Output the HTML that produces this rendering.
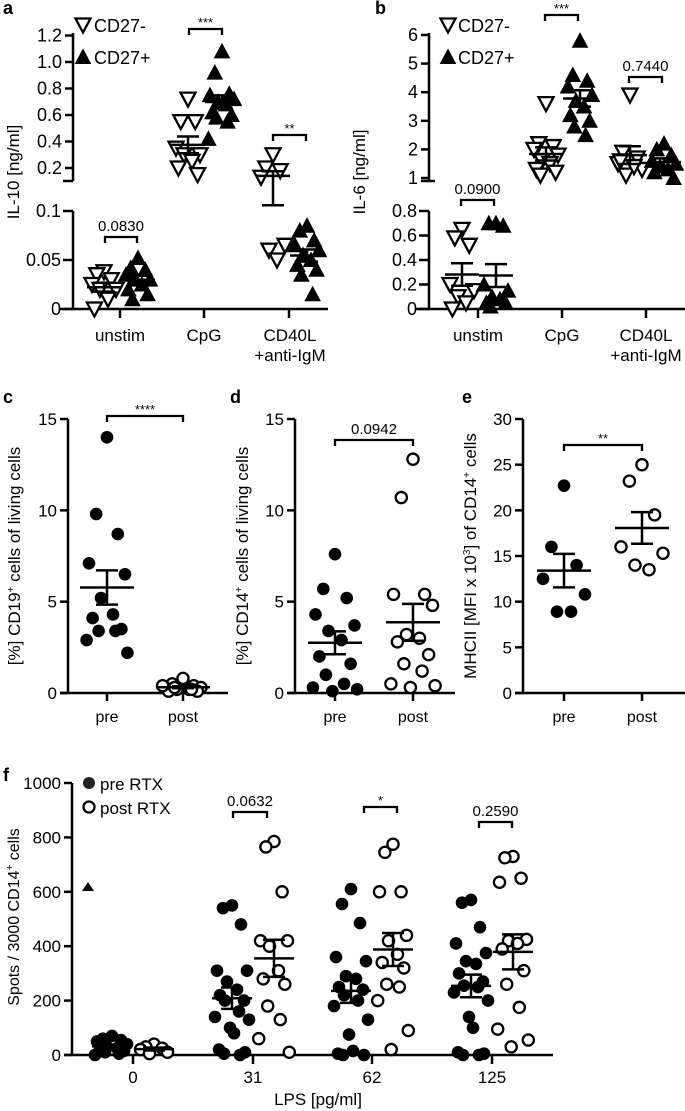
<!DOCTYPE html>
<html><head><meta charset="utf-8"><style>
html,body{margin:0;padding:0;background:#fff}
svg{display:block}
text{font-family:"Liberation Sans",Arial,sans-serif;fill:#000}
</style></head><body>
<svg id="fig" width="685" height="1111" viewBox="0 0 685 1111" xmlns="http://www.w3.org/2000/svg"></svg>
<script>
// ---------- Panel a: IL-10 ----------
const aCategories = ["unstim","CpG","CD40L"];
const aNeg = [[0.038,0.035,0.03,0.025,0.02,0.02,0.01,0.0],
              [0.72,0.55,0.55,0.35,0.3,0.3,0.25,0.2,0.15],
              [0.3,0.2,0.18,0.13,0.065,0.06,0.05]];
const aPos = [[0.052,0.042,0.04,0.035,0.03,0.03,0.025,0.02,0.015,0.01],
              [1.08,0.92,0.76,0.75,0.72,0.7,0.68,0.62,0.6,0.58,0.55,0.42],
              [0.085,0.08,0.07,0.065,0.06,0.055,0.05,0.045,0.04,0.035,0.015]];
const aUpperTicks = ["0.2","0.4","0.6","0.8","1.0","1.2"];
const aLowerTicks = ["0","0.05","0.1"];
const aSig = ["0.0830","***","**"];
// ---------- Panel b: IL-6 ----------
const bNeg = [[0.65,0.58,0.52,0.2,0.15,0.1,0.05,0.0],
              [3.6,2.2,2.1,2.0,1.8,1.6,1.5,1.3,1.2,1.1],
              [3.9,1.9,1.7,1.5,1.3,1.1,1.4,1.6]];
const bPos = [[0.7,0.7,0.68,0.2,0.15,0.1,0.08,0.05,0.05,0.02],
              [5.8,4.6,4.4,4.2,3.9,3.7,3.5,3.2,3.0,2.8,2.5],
              [2.2,2.0,1.8,1.6,1.5,1.4,1.3,1.2,1.0]];
const bUpperTicks = ["1","2","3","4","5","6"];
const bLowerTicks = ["0","0.2","0.4","0.6","0.8"];
const bSig = ["0.0900","***","0.7440"];
// ---------- Panels c, d, e ----------
const cPre = [14,9.8,8.7,7.1,6.5,5.2,4.3,4.1,3.5,3.4,3.4,2.9,2.2];
const cPost = [0.8,0.5,0.4,0.3,0.3,0.2,0.2,0.1,0.1,0.3,0.2,0.4];
const dPre = [7.6,5.7,5.2,4.3,3.7,3.4,2.9,2.0,1.6,1.0,0.5,0.3,0.2,0.1];
const dPost = [12.8,10.7,5.4,5.4,4.8,3.2,3.0,2.8,2.1,1.6,1.2,0.5,0.4,0.3];
const ePre = [22.7,16,14,12.5,10.8,8.9,8.9];
const ePost = [25,23.2,19.5,16,15.3,14,13.5];
const cdTicks = ["0","5","10","15"];
const eTicks = ["0","5","10","15","20","25","30"];
// ---------- Panel f ----------
const fCategories = ["0","31","62","125"];
const fPre = [[70,60,55,50,40,30,25,20,15,10,5,0],
              [550,540,480,310,310,270,240,220,200,200,160,140,130,100,80,20,10,5,0],
              [610,555,485,360,345,290,280,250,240,220,200,180,130,75,15,5,0,0],
              [570,560,470,410,375,345,335,300,270,255,250,230,200,140,100,10,5,0,0]];
const fPost = [[40,30,25,20,10,5],
               [785,765,600,420,420,400,310,280,260,180,130,60,10],
               [775,745,600,600,440,420,370,340,320,260,250,200,90,20],
               [730,725,650,635,425,420,410,390,310,260,175,95,55,30]];
const fTicks = ["0","200","400","600","800","1000"];
const fSig = ["0.0632","*","0.2590"];

const NS="http://www.w3.org/2000/svg";
const svg=document.getElementById('fig');
function el(tag,attrs,parent){const e=document.createElementNS(NS,tag);for(const k in attrs)e.setAttribute(k,attrs[k]);(parent||svg).appendChild(e);return e;}
function txt(s,x,y,size,anchor,parent,extra){const t=el('text',Object.assign({x:x,y:y,'font-size':size,'text-anchor':anchor||'middle'},extra||{}),parent);t.textContent=s;return t;}
function line(x1,y1,x2,y2,w,parent){return el('line',{x1:x1,y1:y1,x2:x2,y2:y2,stroke:'#000','stroke-width':w||2.5},parent);}
const JIT=[0,-9,9,-15,15,-5,5,-12,12,-7,7,-17,17,-2,2,-13,13,-8,8,-16,16];
function stats(v){const n=v.length;const m=v.reduce((a,b)=>a+b,0)/n;const sd=Math.sqrt(v.reduce((a,b)=>a+(b-m)*(b-m),0)/(n-1));return [m,sd/Math.sqrt(n)];}
function marker(kind,x,y,g){
  let m;
  if(kind==='down') m=el('polygon',{points:`${x-7.5},${y-6.5} ${x+7.5},${y-6.5} ${x},${y+7.5}`,fill:'#fff',stroke:'#000','stroke-width':2.3},g);
  else if(kind==='up') m=el('polygon',{points:`${x},${y-7.5} ${x-7.5},${y+6.5} ${x+7.5},${y+6.5}`,fill:'#000',stroke:'#000','stroke-width':1},g);
  else if(kind==='fill') m=el('circle',{cx:x,cy:y,r:6.3,fill:'#000'},g);
  else m=el('circle',{cx:x,cy:y,r:5.6,fill:'#fff',stroke:'#000','stroke-width':2.3},g);
  
  
}
function group(vals,cx,yf,kind,name,spread,half){
  const g=el('g',{});
  
  
  vals.forEach((v,i)=>marker(kind,cx+JIT[i%JIT.length]*(spread||1),yf(v),g));
  const [m,se]=stats(vals);const h=half||20;
  const ml=line(cx-h,yf(m),cx+h,yf(m),2.5,g);
  
  
  line(cx,yf(m+se),cx,yf(m-se),2.5,g);
  line(cx-11,yf(m+se),cx+11,yf(m+se),2.5,g);
  line(cx-11,yf(m-se),cx+11,yf(m-se),2.5,g);
}
function bracket(x1,x2,y,label,size){
  const g=el('g',{});
  
  
  el('polyline',{points:`${x1},${y+6} ${x1},${y} ${x2},${y} ${x2},${y+6}`,fill:'none',stroke:'#000','stroke-width':2.3},g);
  txt(label,(x1+x2)/2,y-(label.startsWith('*')?2:6),label.startsWith('*')?13:size||14,'middle',g,{fill:'#333'});
}
function panelLabel(s,x,y){const t=txt(s,x,y,18,'start',null,{'font-weight':'bold'});}
function yTitle(s,x,y,size){const t=el('text',{x:0,y:0,'font-size':size||16,'text-anchor':'middle',transform:`translate(${x},${y}) rotate(-90)`});t.innerHTML=s;}

// ===== Panel a =====
panelLabel('a',3,14);
const aX=73, aCat=[120,204,289];
const aUp=v=>168-(v-0.2)/0.2*26.5, aLo=v=>309-v/0.1*98;
const aY=v=>v>=0.11?aUp(v):aLo(v);
line(aX,33,aX,181);line(aX-10,181,aX,181);
line(aX,211,aX,309);line(60,309,328,309);
aUpperTicks.forEach(t=>{const y=aUp(+t);line(aX-8,y,aX,y);txt(t,aX-11,y+6,18,'end');});
aLowerTicks.forEach(t=>{const y=aLo(+t);line(aX-10,y,aX,y);txt(t,aX-12,y+6,18,'end');});
aCat.forEach(x=>line(x,309,x,318));
txt('unstim',120,341,17);txt('CpG',204,341,17);txt('CD40L',290,341,17);txt('+anti-IgM',290,361,17);
yTitle('IL-10 [ng/ml]',19,172,17);
aCat.forEach((x,i)=>{group(aNeg[i],x-16,aY,'down','cd27neg-'+aCategories[i].toLowerCase(),0.8,17);group(aPos[i],x+18,aY,'up','cd27pos-'+aCategories[i].toLowerCase(),0.8,17);});
bracket(105,137,237,aSig[0],15);bracket(189,222,29,aSig[1]);bracket(273,306,135,aSig[2]);
marker('down',83,25);txt('CD27-',94,32,18,'start');marker('up',83,57);txt('CD27+',94,64,18,'start');

// ===== Panel b =====
panelLabel('b',375,14);
const bX=429,bCat=[478,562,646];
const bUp=v=>178-(v-1)*28.6, bLo=v=>309-v/0.8*98;
const bY=v=>v>=0.9?bUp(v):bLo(v);
line(bX,33,bX,181);line(bX-8,181,bX+6,181);
line(bX,211,bX,309);line(416,309,685,309);
bUpperTicks.forEach(t=>{const y=bUp(+t);line(bX-8,y,bX,y);txt(t,bX-11,y+6,18,'end');});
bLowerTicks.forEach(t=>{const y=bLo(+t);line(bX-10,y,bX,y);txt(t,bX-12,y+6,18,'end');});
bCat.forEach(x=>line(x,309,x,318));
txt('unstim',478,341,17);txt('CpG',562,341,17);txt('CD40L',646,341,17);txt('+anti-IgM',646,361,17);
yTitle('IL-6 [ng/ml]',365,172,17);
bCat.forEach((x,i)=>{group(bNeg[i],x-16,bY,'down','il6-cd27neg-'+i,0.8,17);group(bPos[i],x+18,bY,'up','il6-cd27pos-'+i,0.8,17);});
bracket(461,494,200,bSig[0],15);bracket(545,578,15,bSig[1]);bracket(629,662,77,bSig[2],15);
marker('down',448,25);txt('CD27-',458,32,18,'start');marker('up',448,57);txt('CD27+',458,64,18,'start');

// ===== Panel c =====
const cdY=v=>693-v/15*274, eY=v=>693-v/30*274;
panelLabel('c',3,403);
line(68,419,68,693);line(60,693,228,693);
cdTicks.forEach(t=>{const y=cdY(+t);line(60,y,68,y);txt(t,57,y+6,17,'end');});
line(107,693,107,701);line(183,693,183,701);
txt('pre',107,722,16);txt('post',183,722,16);
yTitle('[%] CD19<tspan dy="-6" font-size="10">+</tspan><tspan dy="6"> cells of living cells</tspan>',20,556,17);
group(cPre,107,cdY,'fill','cd19-pre',1.2,27);group(cPost,183,cdY,'open','cd19-post',1.2,27);
bracket(107,183,416,'****');

// ===== Panel d =====
panelLabel('d',230,403);
line(295,419,295,693);line(287,693,455,693);
cdTicks.forEach(t=>{const y=cdY(+t);line(287,y,295,y);txt(t,284,y+6,17,'end');});
line(335,693,335,701);line(413,693,413,701);
txt('pre',335,722,16);txt('post',413,722,16);
yTitle('[%] CD14<tspan dy="-6" font-size="10">+</tspan><tspan dy="6"> cells of living cells</tspan>',248,556,17);
group(dPre,335,cdY,'fill','cd14-pre',1.3,27);group(dPost,413,cdY,'open','cd14-post',1.3,27);
bracket(335,413,440,'0.0942',15);

// ===== Panel e =====
panelLabel('e',462,403);
line(523,419,523,693);line(515,693,685,693);
eTicks.forEach(t=>{const y=eY(+t);line(515,y,523,y);txt(t,512,y+6,17,'end');});
line(564,693,564,701);line(642,693,642,701);
txt('pre',564,722,16);txt('post',642,722,16);
yTitle('MHCII [MFI x 10<tspan dy="-6" font-size="10">3</tspan><tspan dy="6">] of CD14</tspan><tspan dy="-6" font-size="10">+</tspan><tspan dy="6"> cells</tspan>',476,556,17);
group(ePre,564,eY,'fill','mhcii-pre',1.4,27);group(ePost,642,eY,'open','mhcii-post',1.4,27);
bracket(564,642,445,'**');

// ===== Panel f =====
panelLabel('f',3,781);
const fX=72, fCat=[133,253,372,492];
const fY=v=>1055-v/1000*272;
line(fX,783,fX,1055);line(64,1055,553,1055);
fTicks.forEach(t=>{const y=fY(+t);line(64,y,fX,y);txt(t,61,y+6,17,'end');});
fCat.forEach((x,i)=>{line(x,1055,x,1064);txt(fCategories[i],x,1083,17);});
txt('LPS [pg/ml]',318,1105,17);
yTitle('Spots / 3000 CD14<tspan dy="-6" font-size="10">+</tspan><tspan dy="6"> cells</tspan>',19,917,16);
fCat.forEach((x,i)=>{group(fPre[i],x-21,fY,'fill','pre-rtx-'+fCategories[i],1,20);group(fPost[i],x+21,fY,'open','post-rtx-'+fCategories[i],0.9,20);});
bracket(233,267,812,fSig[0],15);bracket(364,397,807,fSig[1]);bracket(479,512,822,fSig[2],15);
el('polygon',{points:'88,882 82,891 94,891',fill:'#000'});
el('circle',{cx:89,cy:783,r:6,fill:'#222'});txt('pre RTX',100,790,17,'start');
el('circle',{cx:89,cy:807,r:5.5,fill:'#fff',stroke:'#000','stroke-width':2.3});txt('post RTX',100,814,17,'start');
</script>
</body></html>
